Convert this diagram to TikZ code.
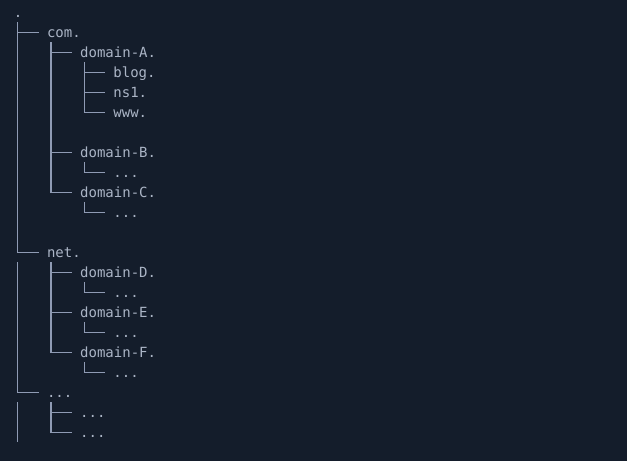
\documentclass[tikz,border=0pt]{standalone}
\usepackage{fontspec}
\setmonofont{DejaVu Sans Mono}
\definecolor{bg}{HTML}{141D2B}
\definecolor{txt}{HTML}{ABB5C6}
\definecolor{ln}{HTML}{8F9BB4}
\begin{document}
\begin{tikzpicture}[x=1pt,y=-1pt,
  lbl/.style={anchor=west, inner sep=0pt, text height=12.5pt, text depth=1.5pt,
    font=\ttfamily\fontsize{14}{16}\selectfont, text=txt},
  tree/.style={draw=ln, line width=1.3pt}]
\fill[bg] (0,0) rectangle (627,461);
\useasboundingbox (0,0) rectangle (627,461);

% labels
\node[lbl] (root) at (13.6,12.3) {.};
\node[lbl] (com)  at (46.8,32.3) {com.};
\node[lbl] (dA)   at (80,52.3) {domain-A.};
\node[lbl] (blog) at (113.2,72.3) {blog.};
\node[lbl] (ns1)  at (113.2,92.3) {ns1.};
\node[lbl] (www)  at (113.2,112.3) {www.};
\node[lbl] (dB)   at (80,152.3) {domain-B.};
\node[lbl] (dBx)  at (113.2,172.3) {...};
\node[lbl] (dC)   at (80,192.3) {domain-C.};
\node[lbl] (dCx)  at (113.2,212.3) {...};
\node[lbl] (net)  at (46.8,252.3) {net.};
\node[lbl] (dD)   at (80,272.3) {domain-D.};
\node[lbl] (dDx)  at (113.2,292.3) {...};
\node[lbl] (dE)   at (80,312.3) {domain-E.};
\node[lbl] (dEx)  at (113.2,332.3) {...};
\node[lbl] (dF)   at (80,352.3) {domain-F.};
\node[lbl] (dFx)  at (113.2,372.3) {...};
\node[lbl] (more) at (46.8,392.3) {...};
\node[lbl] (m1)   at (80,412.3) {...};
\node[lbl] (m2)   at (80,432.3) {...};

% vertical reference points (column centres of parents)
\foreach \p in {root,com,dA,dB,dC,net,dD,dE,dF,more}{
  \coordinate (\p v) at ([xshift=4.15pt]\p.west);
  \coordinate (\p b) at ([xshift=4.15pt,yshift=-10pt]\p.west);
}
\coordinate (m2b) at ([yshift=-10pt]m2.west);

% root level
\draw[tree] (rootb) |- ([xshift=-8.3pt]net.west);
\draw[tree] (rootv |- com.west) -- ([xshift=-8.3pt]com.west);
\draw[tree] (rootv |- netb) |- ([xshift=-8.3pt]more.west);
\draw[tree] (rootv |- moreb) -- (rootv |- m2b);

% com.
\draw[tree] (comb) |- ([xshift=-8.3pt]dC.west);
\draw[tree] (comv |- dA.west) -- ([xshift=-8.3pt]dA.west);
\draw[tree] (comv |- dB.west) -- ([xshift=-8.3pt]dB.west);

% domain-A.
\draw[tree] (dAb) |- ([xshift=-8.3pt]www.west);
\draw[tree] (dAv |- blog.west) -- ([xshift=-8.3pt]blog.west);
\draw[tree] (dAv |- ns1.west) -- ([xshift=-8.3pt]ns1.west);

% single children
\draw[tree] (dBb) |- ([xshift=-8.3pt]dBx.west);
\draw[tree] (dCb) |- ([xshift=-8.3pt]dCx.west);
\draw[tree] (dDb) |- ([xshift=-8.3pt]dDx.west);
\draw[tree] (dEb) |- ([xshift=-8.3pt]dEx.west);
\draw[tree] (dFb) |- ([xshift=-8.3pt]dFx.west);

% net.
\draw[tree] (netb) |- ([xshift=-8.3pt]dF.west);
\draw[tree] (netv |- dD.west) -- ([xshift=-8.3pt]dD.west);
\draw[tree] (netv |- dE.west) -- ([xshift=-8.3pt]dE.west);

% bottom ...
\draw[tree] (moreb) |- ([xshift=-8.3pt]m2.west);
\draw[tree] (morev |- m1.west) -- ([xshift=-8.3pt]m1.west);
\end{tikzpicture}
\end{document}
